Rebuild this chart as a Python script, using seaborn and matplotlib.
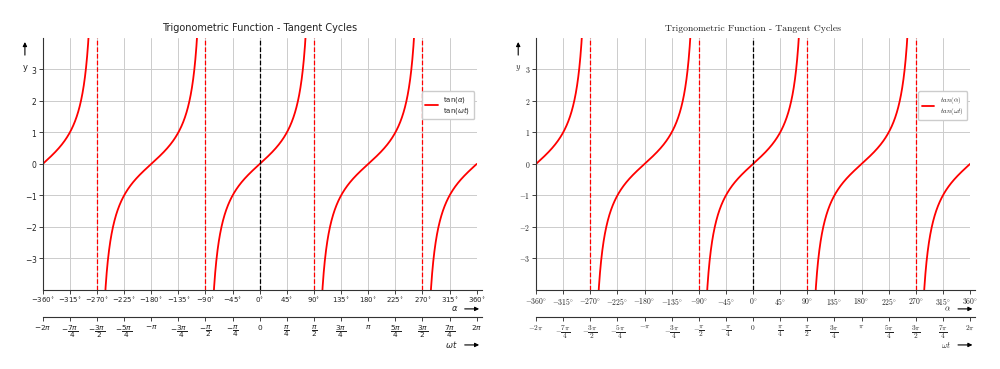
import numpy as np
import pandas as pd
import matplotlib
matplotlib.use('Agg')
import matplotlib.pyplot as plt
import seaborn as sns

# ---------------- data ----------------
title = 'Trigonometric Function - Tangent Cycles'
x_limits = [-360, 360]
y_limits = [-4, 4]
deg_ticks = [-360, -315, -270, -225, -180, -135, -90, -45, 0, 45, 90, 135, 180, 225, 270, 315, 360]
rad_labels = [r'$-2\pi$', r'$-\dfrac{7\pi}{4}$', r'$-\dfrac{3\pi}{2}$', r'$-\dfrac{5\pi}{4}$', r'$-\pi$',
              r'$-\dfrac{3\pi}{4}$', r'$-\dfrac{\pi}{2}$', r'$-\dfrac{\pi}{4}$', r'$0$',
              r'$\dfrac{\pi}{4}$', r'$\dfrac{\pi}{2}$', r'$\dfrac{3\pi}{4}$', r'$\pi$',
              r'$\dfrac{5\pi}{4}$', r'$\dfrac{3\pi}{2}$', r'$\dfrac{7\pi}{4}$', r'$2\pi$']
y_ticks = [-3, -2, -1, 0, 1, 2, 3]
asymptotes = [-270, -90, 90, 270]
branch_edges = [-360, -270, -90, 90, 270, 360]

# tangent curve, one segment per branch
rows = []
for i in range(len(branch_edges) - 1):
    a0, a1 = branch_edges[i], branch_edges[i + 1]
    eps0 = 0 if a0 == -360 else 0.3
    eps1 = 0 if a1 == 360 else 0.3
    a = np.linspace(a0 + eps0, a1 - eps1, 600)
    t = np.tan(np.deg2rad(a))
    keep = np.abs(t) < 6
    rows.append(pd.DataFrame({'alpha': a[keep], 'tan': t[keep], 'seg': i}))
df = pd.concat(rows, ignore_index=True)

sns.set_style('white')

fig = plt.figure(figsize=(10, 3.69), dpi=100)
panels = [
    dict(pos=[0.0427, 0.2141, 0.434, 0.683], family='DejaVu Sans', math='dejavusans',
         leg=r'tan($\alpha$)' + '\n' + r'tan($\omega t$)', ylab='y', fs=5),
    dict(pos=[0.536, 0.2141, 0.434, 0.683], family='cmr10', math='cm',
         leg=r'$tan(\alpha)$' + '\n' + r'$tan(\omega t)$', ylab=r'$y$', fs=5.5),
]

for p in panels:
    ax = fig.add_axes(p['pos'])
    fkw = dict(fontfamily=p['family'], math_fontfamily=p['math'])

    sns.lineplot(data=df, x='alpha', y='tan', units='seg', estimator=None,
                 color='red', linewidth=1.3, ax=ax, legend=False)
    curve = ax.get_lines()[0]
    for a in asymptotes:
        ax.axvline(a, color='red', linestyle='--', linewidth=0.9)
    ax.axvline(0, color='black', linestyle='--', linewidth=0.9)

    ax.set_xlim(x_limits)
    ax.set_ylim(y_limits)
    ax.grid(True, color='#cccccc', linewidth=0.7)
    ax.set_axisbelow(True)
    for s in ['top', 'right']:
        ax.spines[s].set_visible(False)
    for s in ['left', 'bottom']:
        ax.spines[s].set_color('#333333')
        ax.spines[s].set_linewidth(0.8)
    ax.spines['bottom'].set_bounds(-360, 369)

    ax.set_xticks(deg_ticks, [r'$%d^{\circ}$' % d for d in deg_ticks], fontsize=p['fs'], **fkw)
    ax.set_yticks(y_ticks, [r'$%d$' % v for v in y_ticks], fontsize=5.5, **fkw)
    ax.tick_params(axis='both', direction='out', length=3, width=0.6, pad=1,
                   bottom=True, left=True, colors='#222222')
    ax.set_xlabel('')
    ax.set_ylabel('')
    ax.set_title(title, fontsize=7, pad=5, color='#222222', **fkw)

    leg = ax.legend([curve], [p['leg']], loc='upper right', bbox_to_anchor=(1.0, 0.80),
                    fontsize=5, handlelength=1.8, framealpha=1, borderpad=0.5,
                    borderaxespad=0.4)
    for txt in leg.get_texts():
        txt.set_fontfamily(p['family'])
        txt.set_math_fontfamily(p['math'])
        txt.set_linespacing(1.0)

    # secondary axis in radians
    sec = ax.secondary_xaxis(-0.107)
    sec.set_xticks(deg_ticks, rad_labels, fontsize=5.3, **fkw)
    sec.tick_params(axis='x', direction='out', length=3, width=0.6, pad=1.5, colors='#222222')
    sec.spines['bottom'].set_color('#333333')
    sec.spines['bottom'].set_linewidth(0.8)
    sec.spines['bottom'].set_bounds(-360, 369)

    # axis labels with arrows
    ax.text(0.957, -0.075, r'$\alpha$', transform=ax.transAxes, ha='right', va='center',
            fontsize=6, **fkw)
    ax.annotate('', xy=(1.012, -0.075), xytext=(0.966, -0.075), xycoords='axes fraction',
                arrowprops=dict(arrowstyle='-|>', color='black', lw=0.8, mutation_scale=6),
                annotation_clip=False)
    ax.text(0.957, -0.218, r'$\omega t$', transform=ax.transAxes, ha='right', va='center',
            fontsize=6, **fkw)
    ax.annotate('', xy=(1.012, -0.218), xytext=(0.966, -0.218), xycoords='axes fraction',
                arrowprops=dict(arrowstyle='-|>', color='black', lw=0.8, mutation_scale=6),
                annotation_clip=False)
    ax.text(-0.041, 0.881, p['ylab'], transform=ax.transAxes, ha='center', va='center',
            fontsize=6, **fkw)
    ax.annotate('', xy=(-0.041, 0.995), xytext=(-0.041, 0.921), xycoords='axes fraction',
                arrowprops=dict(arrowstyle='-|>', color='black', lw=0.8, mutation_scale=6),
                annotation_clip=False)

fig.savefig('out.png', dpi=100)
